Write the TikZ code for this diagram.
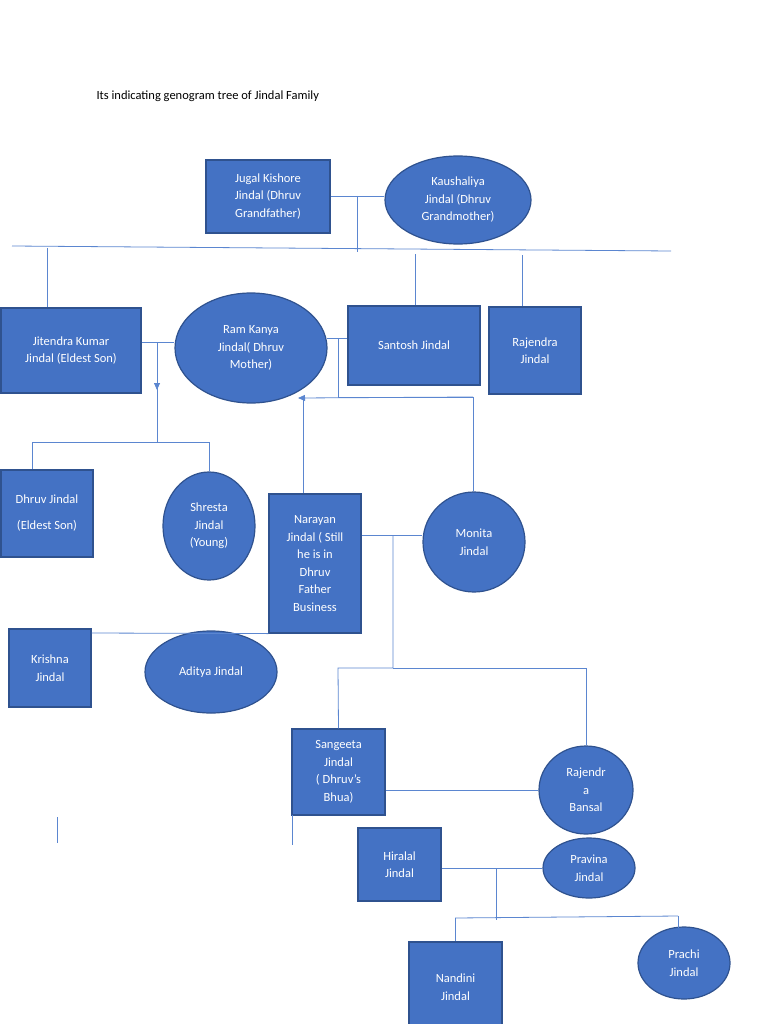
\documentclass[tikz,border=0pt]{standalone}
\usepackage{fontspec}
\setmainfont{Carlito}
\usetikzlibrary{shapes.geometric,arrows.meta}
\definecolor{fillb}{HTML}{4472C4}
\definecolor{edgeb}{HTML}{2F528F}
\definecolor{lineb}{HTML}{5B86D0}
\begin{document}
\begin{tikzpicture}[x=1pt,y=-1pt,
  txt/.style={text=white,font=\fontsize{12.5}{17.5}\selectfont,align=center},
  box/.style={draw=edgeb,line width=1.2pt,fill=fillb,txt,inner sep=0pt},
  oval/.style={ellipse,draw=edgeb,line width=1.2pt,fill=fillb,txt,inner sep=0pt},
  ln/.style={draw=lineb,line width=0.8pt}]
\useasboundingbox (0,0) rectangle (768,1024);
\node[anchor=west,font=\fontsize{12.5}{15}\selectfont] (title) at (93,96) {Its indicating genogram tree of Jindal Family};
\node[box,minimum width=124pt,minimum height=73pt] (jugal) at (268,196.5) {Jugal Kishore\\Jindal (Dhruv\\Grandfather)};
\node[oval,minimum width=146pt,minimum height=88pt] (kaus) at (458,200) {Kaushaliya\\Jindal (Dhruv\\Grandmother)};
\node[box,minimum width=140pt,minimum height=85pt] (jit) at (71,350.5) {Jitendra Kumar\\Jindal (Eldest Son)};
\node[oval,minimum width=152pt,minimum height=110pt] (ram) at (251,348) {Ram Kanya\\Jindal( Dhruv\\Mother)};
\node[box,minimum width=132pt,minimum height=79pt] (san) at (414,345.5) {Santosh Jindal};
\node[box,minimum width=92pt,minimum height=87pt] (raj) at (535,350.5) {Rajendra\\Jindal};
\node[box,minimum width=92pt,minimum height=87pt,font=\fontsize{12.5}{26}\selectfont] (dhruv) at (47,513.5) {Dhruv Jindal\\(Eldest Son)};
\node[oval,minimum width=92pt,minimum height=108pt] (shr) at (209,526) {Shresta\\Jindal\\(Young)};
\node[box,minimum width=92pt,minimum height=139pt] (nar) at (315,563.5) {Narayan\\Jindal ( Still\\he is in\\Dhruv\\Father\\Business};
\node[oval,minimum width=102pt,minimum height=100pt] (mon) at (474,542) {Monita\\Jindal};
\node[box,minimum width=82pt,minimum height=78pt] (kri) at (50,668) {Krishna\\Jindal};
\node[oval,minimum width=132pt,minimum height=82pt] (adi) at (211,672) {Aditya Jindal};
\node[box,minimum width=93pt,minimum height=86pt] (sang) at (338.5,772) {Sangeeta\\Jindal\\( Dhruv’s\\Bhua)};
\node[oval,minimum width=94pt,minimum height=88pt] (rb) at (586,790) {Rajendr\\a\\Bansal};
\node[box,minimum width=83pt,minimum height=73pt] (hir) at (399.5,864.5) {Hiralal\\Jindal};
\node[oval,minimum width=92pt,minimum height=60pt] (pra) at (589,868) {Pravina\\Jindal};
\node[box,minimum width=93pt,minimum height=90pt] (nan) at (455.5,987) {Nandini\\Jindal};
\node[oval,minimum width=92pt,minimum height=72pt] (pr) at (684,963) {Prachi\\Jindal};
% connectors
\coordinate (gp) at (357,196);
\draw[ln] (jugal.east |- gp) -- (kaus.west |- gp);
\draw[ln] (gp) -- (357,252);
\draw[ln] (12,246) -- (671,251);
\draw[ln] (47,248) -- (jit.north -| 47,0);
\draw[ln] (415,254) -- (san.north -| 415,0);
\draw[ln] (522,255) -- (raj.north -| 522,0);
\draw[ln] (jit.east |- 0,342) -- (ram.west |- 0,342);
\draw[ln,-{Triangle[width=6pt,length=7pt]}] (157,342) -- (157,390);
\draw[ln] (157,388) -- (157,442);
\draw[ln] (32,442) -- (209,442);
\draw[ln] (32,442) -- (dhruv.north -| 32,0);
\draw[ln] (209,442) -- (shr.north);
\draw[ln] (327,338) -- (san.west |- 0,338);
\draw[ln] (338,338) -- (338,397) -- (473,397);
\draw[ln,-{Triangle[width=6pt,length=7pt]}] (473,397) -- (298,398);
\draw[ln] (303,398) -- (nar.north -| 303,0);
\draw[ln] (473,397) -- (mon.north -| 473,0);
\draw[ln] (nar.east |- 0,535) -- (mon.west |- 0,535);
\draw[ln] (393,535) -- (393,668) -- (338,668) -- (sang.north);
\draw[ln] (393,668) -- (586,668) -- (rb.north);
\draw[ln] (kri.east |- 0,633) -- (nar.south west);
\draw[ln] (sang.east |- 0,790) -- (rb.west);
\draw[ln] (57,817) -- (57,843);
\draw[ln] (292,815) -- (292,845);
\draw[ln] (hir.east |- 0,868) -- (pra.west);
\draw[ln] (496,868) -- (496,920);
\draw[ln] (455,918) -- (678,916);
\draw[ln] (455,918) -- (nan.north -| 455,0);
\draw[ln] (678,916) -- (678,928);
\end{tikzpicture}
\end{document}
